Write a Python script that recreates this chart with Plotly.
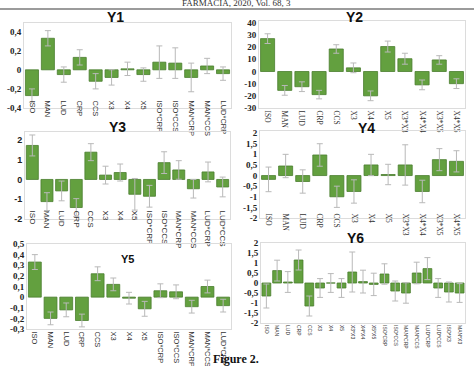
import plotly.graph_objects as go

W, H = 474, 366

# ---------------- data ----------------
y1_cats = ["ISO", "MAN", "LUD", "CRP", "CCS", "X3", "X4", "X5", "ISO*CRP", "ISO*CCS", "MAN*CRP", "MAN*CCS", "LUD*CRP"]
y1_vals = [-0.27, 0.33, -0.05, 0.13, -0.12, -0.08, 0.01, -0.05, 0.08, 0.07, -0.08, 0.04, -0.04]
y1_errs = [0.07, 0.08, 0.08, 0.08, 0.08, 0.08, 0.07, 0.07, 0.17, 0.16, 0.15, 0.08, 0.07]

y2_cats = ["ISO", "MAN", "LUD", "CRP", "CCS", "X3", "X4", "X5", "X3*X3", "X4*X4", "X3*X5", "X4*X5"]
y2_vals = [27, -15.5, -12.5, -19, 18.5, 3, -20, 20.5, 10.5, -11, 9.5, -10]
y2_errs = [4, 4, 4, 3.5, 3.5, 4, 4, 4.5, 4.5, 4, 3.5, 4]

y3_cats = ["ISO", "MAN", "LUD", "CRP", "CCS", "X3", "X4", "X5", "ISO*CRP", "ISO*CCS", "MAN*CRP", "MAN*CCS", "LUD*CRP", "LUD*CCS"]
y3_vals = [1.72, -1.12, -0.58, -1.42, 1.38, 0.22, 0.35, -0.75, -0.85, 0.85, 0.48, -0.47, 0.38, -0.38]
y3_errs = [0.53, 0.45, 0.5, 0.45, 0.43, 0.45, 0.43, 0.8, 0.55, 0.55, 0.47, 0.47, 0.5, 0.5]

y4_cats = ["ISO", "MAN", "LUD", "CRP", "CCS", "X3", "X4", "X5", "X3*X3", "X4*X4", "X3*X5", "X4*X5"]
y4_vals = [-0.18, 0.45, -0.28, 0.97, -1.0, -0.75, 0.5, 0.05, 0.5, -0.75, 0.75, 0.67]
y4_errs = [0.58, 0.55, 0.55, 0.53, 0.5, 0.55, 0.5, 0.48, 0.95, 0.53, 0.52, 0.5]

y5_cats = ["ISO", "MAN", "LUD", "CRP", "CCS", "X3", "X4", "X5", "ISO*CRP", "ISO*CCS", "MAN*CRP", "MAN*CCS", "LUD*CRP"]
y5_vals = [0.33, -0.2, -0.12, -0.22, 0.22, 0.12, -0.01, -0.11, 0.06, 0.05, -0.09, 0.1, -0.08]
y5_errs = [0.07, 0.06, 0.065, 0.06, 0.065, 0.06, 0.055, 0.07, 0.065, 0.065, 0.06, 0.06, 0.06]

y6_cats = ["ISO", "MAN", "LUD", "CRP", "CCS", "X3", "X4", "X5", "X3*X3", "X4*X4", "X5*X5", "ISO*CRP", "ISO*CCS",
           "MAN*CRP", "MAN*CCS", "LUD*CRP", "LUD*CCS", "ISO*X3", "MAN*X3"]
y6_vals = [-0.65, 0.62, 0.05, 1.15, -1.15, -0.25, 0.0, -0.25, 0.55, 0.07, -0.07, 0.45, -0.4,
           -0.5, 0.5, 0.72, -0.25, -0.45, -0.5]
y6_errs = [0.6, 0.52, 0.52, 0.5, 0.5, 0.47, 0.47, 0.47, 1.0, 0.57, 0.56, 0.51, 0.5,
           0.51, 0.54, 0.55, 0.47, 0.5, 0.47]

ticks_y1 = [-0.4, -0.2, 0, 0.2, 0.4]
text_y1 = ["-0,4", "-0,2", "0", "0,2", "0,4"]
ticks_y2 = [-30, -20, -10, 0, 10, 20, 30, 40]
text_y2 = ["-30", "-20", "-10", "0", "10", "20", "30", "40"]
ticks_y3 = [-2, -1, 0, 1, 2]
text_y3 = ["-2", "-1", "0", "1", "2"]
ticks_y4 = [-2, -1.5, -1, -0.5, 0, 0.5, 1, 1.5, 2]
text_y4 = ["-2", "-1,5", "-1", "-0,5", "0", "0,5", "1", "1,5", "2"]
ticks_y5 = [-0.3, -0.2, -0.1, 0, 0.1, 0.2, 0.3, 0.4, 0.5]
text_y5 = ["-0,3", "-0,2", "-0,1", "0", "0,1", "0,2", "0,3", "0,4", "0,5"]

# ---------------- layout helpers ----------------
SERIF = "Liberation Serif"
SANS = "Liberation Sans"

panels = [
    dict(t="Y1", c=y1_cats, v=y1_vals, e=y1_errs, tv=ticks_y1, tt=text_y1, yr=[-0.4, 0.49],
         xd=(24, 231), yd=(23, 108), tp=(115, 17), tf=14, xf=SANS, xs=7.5, yf=SERIF, so=-10),
    dict(t="Y2", c=y2_cats, v=y2_vals, e=y2_errs, tv=ticks_y2, tt=text_y2, yr=[-30, 41.5],
         xd=(259, 465), yd=(21, 108), tp=(354, 17), tf=14, xf=SERIF, xs=7.5, yf=SERIF, so=0),
    dict(t="Y3", c=y3_cats, v=y3_vals, e=y3_errs, tv=ticks_y3, tt=text_y3, yr=[-2, 2.4],
         xd=(25, 230), yd=(132, 219), tp=(117, 127), tf=14, xf=SANS, xs=8, yf=SANS, so=-11),
    dict(t="Y4", c=y4_cats, v=y4_vals, e=y4_errs, tv=ticks_y4, tt=text_y4, yr=[-2, 2.1],
         xd=(260, 465), yd=(131, 218), tp=(366, 128), tf=14, xf=SERIF, xs=7.5, yf=SERIF, so=-7),
    dict(t="Y5", c=y5_cats, v=y5_vals, e=y5_errs, tv=ticks_y5, tt=text_y5, yr=[-0.3, 0.5],
         xd=(27, 231), yd=(244, 329), tp=(128, 259), tf=11, xf=SANS, xs=7.5, yf=SERIF, so=0),
    dict(t="Y6", c=y6_cats, v=y6_vals, e=y6_errs, tv=ticks_y4, tt=text_y4, yr=[-2, 2],
         xd=(261, 465), yd=(243, 323), tp=(355, 238), tf=14, xf=SANS, xs=5, yf=SERIF, so=0),
]

BAR_FILL = "#63a03f"
BAR_LINE = "#4a7d2e"
ERR_COL = "#b9b9b9"
FRAME = "#dcdcdc"

fig = go.Figure()
layout = dict(
    width=W, height=H, margin=dict(l=0, r=0, t=0, b=0),
    paper_bgcolor="white", plot_bgcolor="white", showlegend=False,
)
annotations = []

for i, p in enumerate(panels):
    k = "" if i == 0 else str(i + 1)
    xa, ya = "x" + k, "y" + k
    fig.add_trace(go.Bar(
        x=p["c"], y=p["v"], xaxis=xa, yaxis=ya,
        marker=dict(color=BAR_FILL, line=dict(color=BAR_LINE, width=0.8)),
        width=0.82,
        error_y=dict(type="data", array=p["e"], visible=True, color=ERR_COL, thickness=1, width=3),
    ))
    x0, x1 = p["xd"]
    yt, yb = p["yd"]
    layout["xaxis" + k] = dict(
        domain=[x0 / W, x1 / W], anchor=ya, type="category",
        range=[-0.5, len(p["c"]) - 0.5],
        tickangle=90, tickfont=dict(family=p["xf"], size=p["xs"], color="#333"),
        showgrid=False, zeroline=False, showline=True, linecolor=FRAME, linewidth=1, mirror=True,
        ticks="", ticklabelstandoff=p["so"], automargin=False,
    )
    layout["yaxis" + k] = dict(
        domain=[1 - yb / H, 1 - yt / H], anchor=xa, range=p["yr"],
        tickvals=p["tv"], ticktext=p["tt"],
        tickfont=dict(family=p["yf"], size=9, color="#222", weight="bold"),
        showgrid=False, zeroline=False, showline=True, linecolor=FRAME, linewidth=1, mirror=True,
        ticks="", automargin=False,
    )
    annotations.append(dict(
        text=p["t"], x=p["tp"][0] / W, y=1 - p["tp"][1] / H, xref="paper", yref="paper",
        showarrow=False, xanchor="center", yanchor="middle",
        font=dict(family=SANS, size=p["tf"], color="#111", weight="bold"),
    ))

annotations.append(dict(
    text="FARMACIA, 2020, Vol. 68, 3", x=236 / W, y=1 - 3.5 / H, xref="paper", yref="paper",
    showarrow=False, xanchor="center", yanchor="middle",
    font=dict(family=SERIF, size=9, color="#333"),
))
annotations.append(dict(
    text="Figure 2.", x=236 / W, y=1 - 359 / H, xref="paper", yref="paper",
    showarrow=False, xanchor="center", yanchor="middle",
    font=dict(family=SERIF, size=12, color="#111", weight="bold"),
))
layout["annotations"] = annotations
layout["shapes"] = [dict(type="line", xref="paper", yref="paper", x0=0, x1=1,
                         y0=1 - 9 / H, y1=1 - 9 / H, line=dict(color="#7a7a7a", width=1.5))]

fig.update_layout(**layout)
fig.write_html("out.html", config={"displayModeBar": False},
               post_script="document.body.style.margin='0';document.body.style.overflow='hidden';")
